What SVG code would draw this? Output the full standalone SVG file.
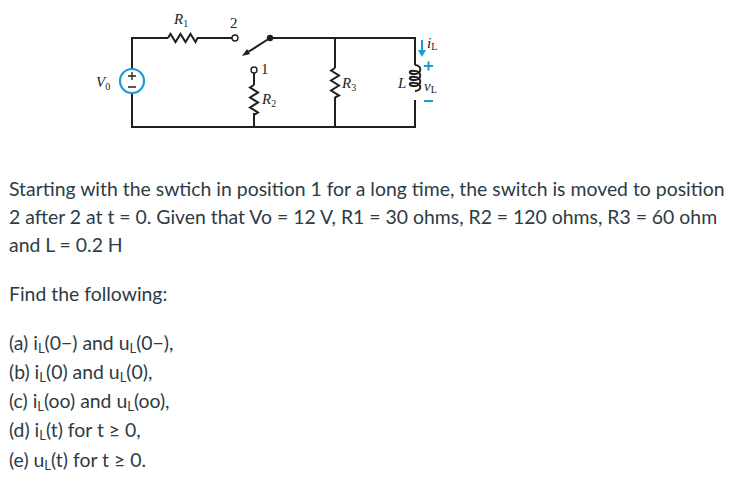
<svg xmlns="http://www.w3.org/2000/svg" width="732" height="482" viewBox="0 0 732 482">
<style>
.w{fill:none;stroke:#231f20;stroke-width:2}
.b{fill:none;stroke:#1a9ad6;stroke-width:2}
.s{font-family:"Liberation Serif",serif;font-size:15px;font-style:italic;fill:#231f20}
.n{font-family:"Liberation Serif",serif;font-size:15px;fill:#231f20}
.t{font-family:Lato,"Liberation Sans",sans-serif;font-size:19.4px;fill:#2d3b45}
</style>
<rect width="732" height="482" fill="#fff"/>
<g id="connectors">
<path class="w" d="M132,69 V38 H168 M197,38 H232 M270,38 H415 V65 M415,100 V127 H132 V93 M254,73 V85 M254,113 V127 M335,38 V68 M335,97 V127"/>
<path class="w" d="M270,38 L245,54"/>
<path d="M242,56 L247,49 L250,54 Z" fill="#231f20"/>
</g>
<g id="R1"><path class="w" d="M168,38 l2.5,-4 l5,8 l5,-8 l5,8 l5,-8 l5,8 l2,-4" stroke-width="1.4"/><text class="s" x="174" y="24">R<tspan font-style="normal" font-size="10" dy="3">1</tspan></text></g>
<g id="node2"><circle cx="235" cy="38" r="3" fill="#fff" stroke="#231f20" stroke-width="1.4"/><text class="n" x="230" y="28">2</text></g>
<g id="pivot"><circle cx="270" cy="38" r="3.2" fill="#231f20"/></g>
<g id="node1"><circle cx="254" cy="70" r="3" fill="#fff" stroke="#231f20" stroke-width="1.4"/><text class="n" x="261" y="74">1</text></g>
<g id="R2"><path class="w" stroke-width="1.4" d="M254,85 l-4,2.5 l8,5 l-8,5 l8,5 l-8,5 l8,5 l-4,2.5"/><text class="s" x="262" y="104">R<tspan font-style="normal" font-size="10" dy="3">2</tspan></text></g>
<g id="R3"><path class="w" stroke-width="1.4" d="M335,68 l-4,2.5 l8,5 l-8,5 l8,5 l-8,5 l8,5 l-4,2"/><text class="s" x="342" y="88">R<tspan font-style="normal" font-size="10" dy="3">3</tspan></text></g>
<g id="L"><path class="w" stroke-width="1.6" d="M415,65 c7,0 7,9 0,9 c-7,0 -7,-4 0,-3 c7,0 7,9 0,9 c-7,0 -7,-4 0,-3 c7,0 7,9 0,9 c-7,0 -7,-4 0,-3 c7,0 7,8 0,8"/><text class="s" x="398" y="88">L</text>
<path class="b" d="M422,40 V52"/><path d="M418,50 L426,50 L422,57 Z" fill="#1a9ad6"/>
<text class="s" x="427" y="48">i<tspan font-style="normal" font-size="10" dy="2">L</tspan></text>
<path class="b" d="M424,66 H433 M428.5,61.5 V70.5 M424,101 H433"/>
<text class="s" x="424" y="91">v<tspan font-style="normal" font-size="10" dy="2">L</tspan></text></g>
<g id="V0"><circle cx="132" cy="81" r="12" fill="#fff" stroke="#1a9ad6" stroke-width="2.2"/>
<path d="M128,76 H136 M132,72 V80 M128,87 H136" stroke="#231f20" stroke-width="1.3"/>
<text class="s" x="96" y="87">V<tspan font-style="normal" font-size="10" dy="3">0</tspan></text></g>
<g id="text">
<text class="t" x="9" y="196">Starting with the swtich in position 1 for a long time, the switch is moved to position</text>
<text class="t" x="9" y="224">2 after 2 at t = 0. Given that Vo = 12 V, R1 = 30 ohms, R2 = 120 ohms, R3 = 60 ohm</text>
<text class="t" x="9" y="252">and L = 0.2 H</text>
<text class="t" x="9" y="301">Find the following:</text>
<text class="t" x="9" y="350">(a) i<tspan font-size="13" dy="3">L</tspan><tspan dy="-3">(0−) and u</tspan><tspan font-size="13" dy="3">L</tspan><tspan dy="-3">(0−),</tspan></text>
<text class="t" x="9" y="379">(b) i<tspan font-size="13" dy="3">L</tspan><tspan dy="-3">(0) and u</tspan><tspan font-size="13" dy="3">L</tspan><tspan dy="-3">(0),</tspan></text>
<text class="t" x="9" y="408">(c) i<tspan font-size="13" dy="3">L</tspan><tspan dy="-3">(oo) and u</tspan><tspan font-size="13" dy="3">L</tspan><tspan dy="-3">(oo),</tspan></text>
<text class="t" x="9" y="437">(d) i<tspan font-size="13" dy="3">L</tspan><tspan dy="-3">(t) for t ≥ 0,</tspan></text>
<text class="t" x="9" y="467">(e) u<tspan font-size="13" dy="3">L</tspan><tspan dy="-3">(t) for t ≥ 0.</tspan></text>
</g>
</svg>
